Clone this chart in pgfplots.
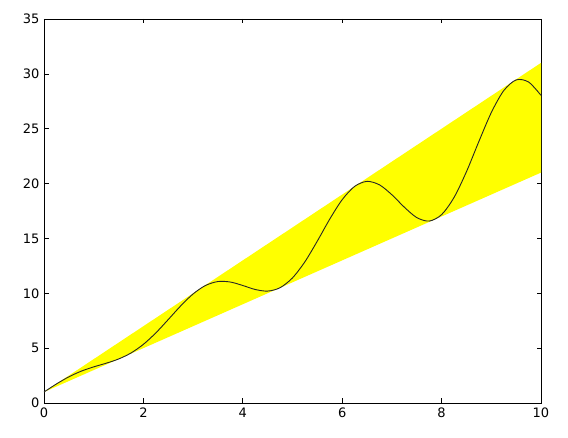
\documentclass[border=0pt]{standalone}
\usepackage{pgfplots}
\pgfplotsset{compat=1.18}
\usepackage{fontspec}
\setmainfont{DejaVu Sans}
\definecolor{yel}{RGB}{255,255,0}
\pgfplotstableread{
x y
0 1.000
0.25 1.735
0.5 2.385
0.75 2.902
1.0 3.292
1.25 3.624
1.5 4.008
1.75 4.556
2.0 5.346
2.25 6.388
2.5 7.605
2.75 8.849
3.0 9.940
3.25 10.712
3.5 11.070
3.75 11.025
4.0 10.709
4.25 10.346
4.5 10.200
4.75 10.507
5.0 11.402
5.25 12.875
5.5 14.762
5.75 16.765
6.0 18.532
6.25 19.743
6.5 20.200
6.75 19.883
7.0 18.979
7.25 17.847
7.5 16.901
7.75 16.583
8.0 17.169
8.25 18.734
8.5 21.080
8.75 23.835
9.0 26.471
9.25 28.469
9.5 29.447
9.75 29.255
10.0 28.041
}\curve
\begin{document}
\begin{tikzpicture}[x=1pt,y=1pt]
\begin{axis}[
  scale only axis,
  width=497pt, height=384pt,
  xmin=0, xmax=10, ymin=0, ymax=35,
  xtick={0,2,4,6,8,10},
  ytick={0,5,10,15,20,25,30,35},
  tick align=inside,
  major tick length=4.5pt,
  tick style={black, line width=0.7pt},
  axis line style={black, line width=0.9pt},
  ticklabel style={font=\fontsize{13}{15}\selectfont},
  /pgf/number format/assume math mode=true,
  xticklabel style={yshift=-1pt},
  yticklabel style={xshift=-1pt},
  clip=true,
]
\addplot[fill=yel, draw=none] coordinates {(0,1) (10,21) (10,31)} -- cycle;
\addplot[black!85, line width=0.9pt, smooth, tension=0.5] table[x=x,y=y] {\curve};
\end{axis}
\path ([xshift=-44pt,yshift=-35pt]current axis.south west) rectangle ([xshift=27pt,yshift=19pt]current axis.north east);
\end{tikzpicture}
\end{document}
